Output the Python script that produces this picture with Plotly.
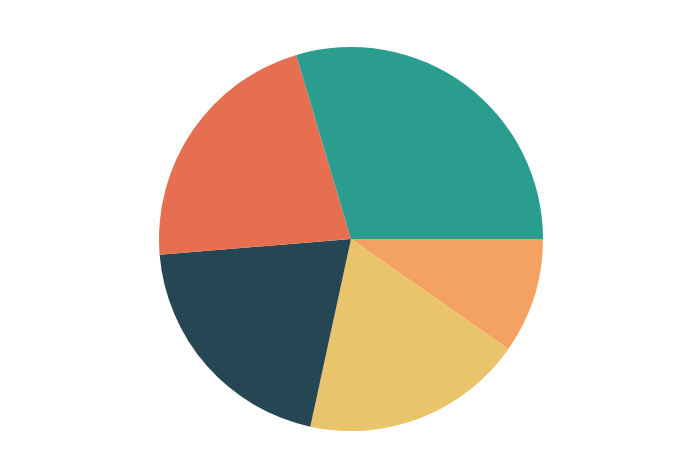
import plotly.graph_objects as go

# slice data (no labels shown in the reference), shares in percent
labels = ['A', 'B', 'C', 'D', 'E']
values = [29.6, 21.7, 20.3, 18.7, 9.7]
colors = ['#2a9d8f', '#e76f51', '#264653', '#e9c46a', '#f4a261']

# drawn clockwise from 3 o'clock, so feed slices in reverse order
fig = go.Figure(go.Pie(
    labels=labels[::-1],
    values=values[::-1],
    marker={'colors': colors[::-1], 'line': {'width': 0}},
    sort=False,
    direction='clockwise',
    rotation=90,
    textinfo='none',
    hoverinfo='label+percent',
))

fig.update_layout(
    width=696,
    height=472,
    margin={'l': 78, 'r': 88, 't': 39, 'b': 49},
    showlegend=False,
    paper_bgcolor='white',
)

fig.write_html("out.html")
